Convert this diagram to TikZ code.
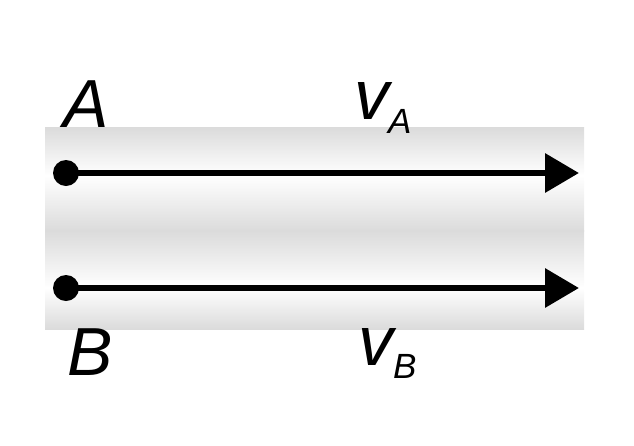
\documentclass[tikz,border=0pt]{standalone}
\usepackage{fontspec}
\setmainfont{Liberation Sans}
\usetikzlibrary{arrows.meta}
\definecolor{bandgray}{HTML}{DBDBDB}
\tikzset{
  lbl/.style={font=\fontsize{68}{68}\selectfont\itshape, inner sep=0pt, anchor=center},
  vlbl/.style={font=\fontsize{70}{70}\selectfont\itshape, inner sep=0pt, anchor=base west},
  sublbl/.style={font=\fontsize{35}{35}\selectfont\itshape, inner sep=0pt, anchor=base west},
  dotnode/.style={circle, fill=black, inner sep=0pt, minimum size=26pt},
  vel/.style={line width=6.5pt, -{Triangle[length=34pt,width=38pt]}}
}
\begin{document}
\begin{tikzpicture}[x=1pt,y=-1pt]
\useasboundingbox (0,0) rectangle (634,445);
% band shading
\shade[top color=bandgray, bottom color=white] (45,127) rectangle (584,176);
\shade[top color=white, bottom color=bandgray] (45,175.5) rectangle (584,231);
\shade[top color=bandgray, bottom color=white] (45,230.5) rectangle (584,288);
\shade[top color=white, bottom color=bandgray] (45,287.5) rectangle (584,329);
% dots and arrows
\node[dotnode] (dA) at (66,173) {};
\node[dotnode] (dB) at (66,288) {};
\coordinate (eA) at (579,173);
\coordinate (eB) at (579,288);
\draw[vel] (dA.center) -- (eA);
\draw[vel] (dB.center) -- (eB);
% labels
\node[lbl] (lA) at (86,104) {A};
\node[lbl] (lB) at (90,352) {B};
\node[vlbl] (vA) at (354,119) {v};
\node[sublbl] (sA) at (388,133) {A};
\node[vlbl] (vB) at (358,365) {v};
\node[sublbl] (sB) at (393,378) {B};
\end{tikzpicture}
\end{document}
